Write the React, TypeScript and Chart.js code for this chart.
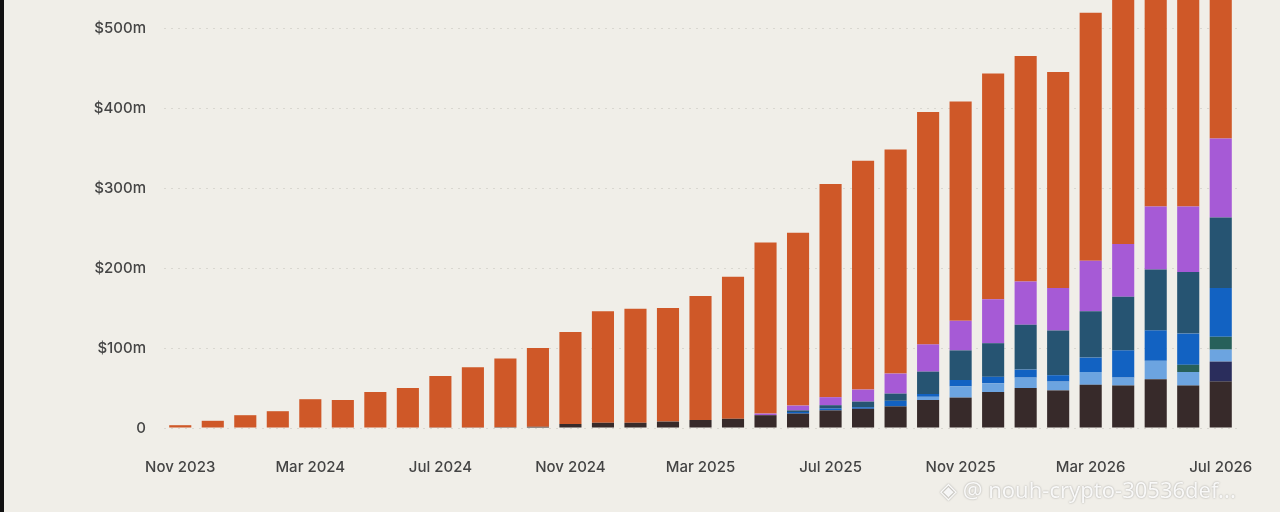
import React, { useEffect, useRef } from "react";
import { Chart, registerables } from "chart.js";
Chart.register(...registerables);

const months = ["Nov 2023","Dec 2023","Jan 2024","Feb 2024","Mar 2024","Apr 2024","May 2024","Jun 2024","Jul 2024","Aug 2024","Sep 2024","Oct 2024","Nov 2024","Dec 2024","Jan 2025","Feb 2025","Mar 2025","Apr 2025","May 2025","Jun 2025","Jul 2025","Aug 2025","Sep 2025","Oct 2025","Nov 2025","Dec 2025","Jan 2026","Feb 2026","Mar 2026","Apr 2026","May 2026","Jun 2026","Jul 2026"];
const shownLabels = ["Nov 2023","Mar 2024","Jul 2024","Nov 2024","Mar 2025","Jul 2025","Nov 2025","Mar 2026","Jul 2026"];
const yTicks = [0, 100, 200, 300, 400, 500];

const dark = [0,0,0,0,0,0,0,0,0.5,0.5,1,1.5,5,6.5,6.5,8,10,11.5,16,18,22,24,27,35,38,45,50,47,54,53,61,53,58];
const navy = [0,0,0,0,0,0,0,0,0,0,0,0,0,0,0,0,0,0,0,0,0,0,0,0,0,0,0,0,0,0,0,0,25];
const lightBlue = [0,0,0,0,0,0,0,0,0,0,0,0,0,0,0,0,0,0,0,0,0,0,0,4,14,11,13,11,16,10,23,17,15];
const green = [0,0,0,0,0,0,0,0,0,0,0,0,0,0,0,0,0,0,0,0,0,0,0,0,0,0,0,0,0,0,0,9,16];
const brightBlue = [0,0,0,0,0,0,0,0,0,0,0,0,0,0,0,0,0,0,0,2,2.5,2,7,3.5,8,8,10,8,18,34,38,39,61];
const teal = [0,0,0,0,0,0,0,0,0,0,0,0,0,0,0,0,0,0,0,2,4,7,9,28,37,42,56,56,58,67,76,77,88];
const purple = [0,0,0,0,0,0,0,0,0,0,0,0,0,0,0,0,0,0,2,6,10,15,25,34,37,55,54,53,63,66,79,82,99];
const orange = [3.5,9,16,21,36,35,45,50,64.5,75.5,86,98.5,115,139.5,142.5,142,155,177.5,214,216,266.5,286,280,290.5,274,282,282,270,310,330,303,303,238];

const SHIFT = 27;

export default function App() {
  const ref = useRef<HTMLCanvasElement>(null);
  useEffect(() => {
    document.body.style.margin = "0";
    document.body.style.background = "#f0eee8";
    const series = [
      { label: "a", data: dark, backgroundColor: "#372a2a" },
      { label: "b", data: navy, backgroundColor: "#2a2d5c" },
      { label: "c", data: lightBlue, backgroundColor: "#6ca4e0" },
      { label: "d", data: green, backgroundColor: "#27605a" },
      { label: "e", data: brightBlue, backgroundColor: "#1262c2" },
      { label: "f", data: teal, backgroundColor: "#265472" },
      { label: "g", data: purple, backgroundColor: "#a65ad6" },
      { label: "h", data: orange, backgroundColor: "#cf5828" },
    ];
    const font = { family: "Inter, 'Noto Sans', sans-serif", size: 15, weight: 500 as any };
    const chart = new Chart(ref.current!, {
      type: "bar",
      data: {
        labels: months,
        datasets: series.map((s) => ({ ...s, borderWidth: 0, barPercentage: 0.68, categoryPercentage: 1 })),
      },
      options: {
        animation: false,
        responsive: false,
        layout: { padding: { left: 0, right: 43, top: 0, bottom: 0 } },
        plugins: { legend: { display: false }, tooltip: { enabled: false } },
        scales: {
          x: {
            stacked: true,
            grid: { display: false },
            border: { display: false },
            ticks: {
              autoSkip: false,
              maxRotation: 0,
              padding: 22,
              color: "#444",
              font,
              callback: (_v: any, i: number) => (shownLabels.includes(months[i]) ? months[i] : ""),
            },
            afterFit: (s: any) => { s.height = 84; },
          },
          y: {
            stacked: true,
            min: 0,
            max: 535,
            grid: { color: "#d9d7d0", drawTicks: false } as any,
            border: { display: false, dash: [2, 5] },
            afterBuildTicks: (s: any) => { s.ticks = yTicks.map((v) => ({ value: v })); },
            ticks: {
              padding: 18,
              color: "#444",
              font,
              callback: (v: any) => (v === 0 ? "0" : "$" + v + "m"),
            },
            afterFit: (s: any) => { s.width = 164; },
          },
        },
      },
    });
    return () => chart.destroy();
  }, []);
  return (
    <div style={{ position: "relative", width: 1280, height: 512, background: "#f0eee8", overflow: "hidden" }}>
      <canvas ref={ref} width={1280} height={512 + SHIFT} style={{ display: "block", position: "absolute", left: 0, top: -SHIFT }} />
      <div style={{ position: "absolute", left: 0, top: 0, width: 4, height: 512, background: "#111" }} />
      <div style={{ position: "absolute", left: 940, top: 474, fontFamily: "'Noto Sans', sans-serif", fontSize: 22, color: "rgba(255,255,255,0.9)", textShadow: "0 0 2px rgba(0,0,0,0.35)", whiteSpace: "nowrap" }}>
        ◈ @ nouh-crypto-30536def...
      </div>
    </div>
  );
}
